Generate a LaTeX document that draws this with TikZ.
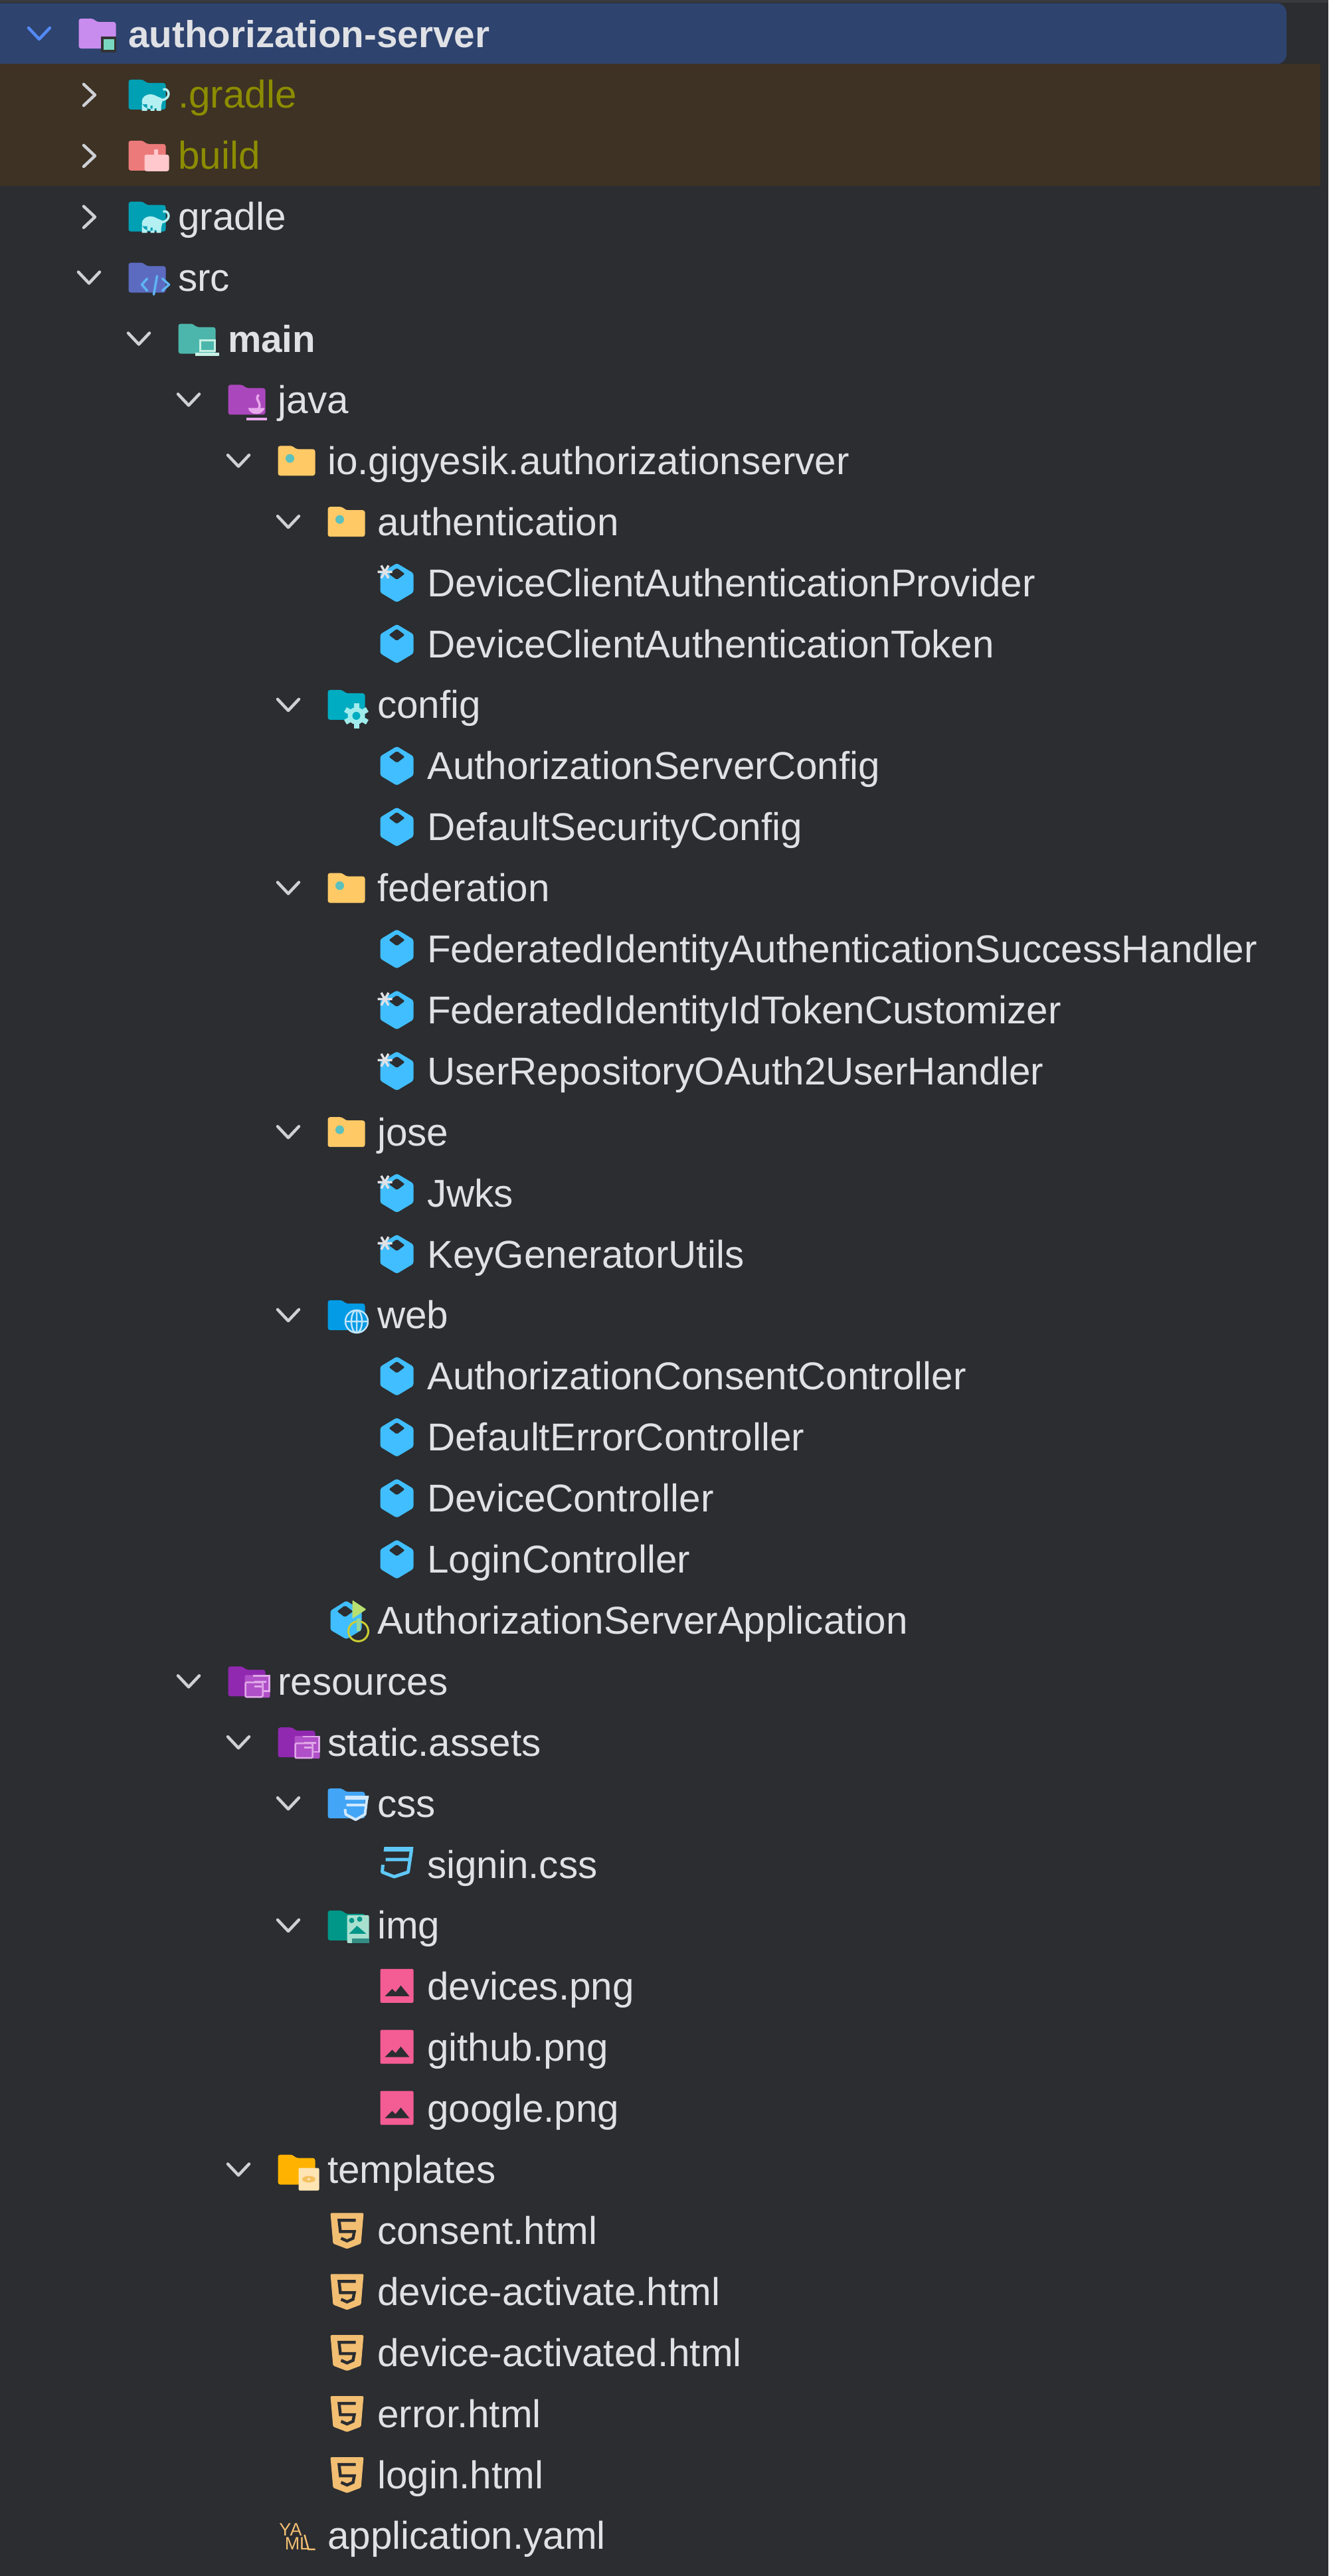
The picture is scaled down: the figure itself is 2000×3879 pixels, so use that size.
\documentclass[tikz,border=0pt]{standalone}
\usepackage{fontspec}
\setmainfont{Liberation Sans}
\usepackage{tikz}
\usetikzlibrary{calc}

\definecolor{panelbg}{HTML}{2B2D30}
\definecolor{topline}{HTML}{383A3E}
\definecolor{selrow}{HTML}{2E436E}
\definecolor{ignrow}{HTML}{3D3223}
\definecolor{rowink}{HTML}{DFE1E5}
\definecolor{chevink}{HTML}{CED0D6}
\definecolor{rootchev}{HTML}{548AF7}
\definecolor{ignink}{HTML}{8C8C00}
\definecolor{cubeblue}{HTML}{40BEFF}
\definecolor{htmlorange}{HTML}{F2BE72}
\definecolor{rootfill}{HTML}{C88CEE}
\definecolor{rootmark}{HTML}{7BD8C0}
\definecolor{gradlefill}{HTML}{00A0B4}
\definecolor{gradlemark}{HTML}{B4F0F2}
\definecolor{buildfill}{HTML}{EC7A7A}
\definecolor{buildmark}{HTML}{FFC8CC}
\definecolor{srcfill}{HTML}{5C6BC0}
\definecolor{srcmark}{HTML}{5FB4F5}
\definecolor{mainfill}{HTML}{4DB6AC}
\definecolor{mainmark}{HTML}{C8F0E4}
\definecolor{javafill}{HTML}{AB47BC}
\definecolor{javamark}{HTML}{E8A8EC}
\definecolor{pkgfill}{HTML}{FFC966}
\definecolor{pkgdot}{HTML}{5BC0BE}
\definecolor{conffill}{HTML}{00ACC1}
\definecolor{confmark}{HTML}{A0ECEC}
\definecolor{webfill}{HTML}{039BE5}
\definecolor{webmark}{HTML}{C0E4FA}
\definecolor{resfill}{HTML}{9028B0}
\definecolor{resdoc}{HTML}{B050C8}
\definecolor{resmark}{HTML}{E0A8E8}
\definecolor{cssfill}{HTML}{42A5F5}
\definecolor{cssmark}{HTML}{D0E8FF}
\definecolor{cssink}{HTML}{5FC8F8}
\definecolor{imgfill}{HTML}{009688}
\definecolor{imgmark}{HTML}{A8E0D0}
\definecolor{tplfill}{HTML}{FFB300}
\definecolor{tplmark}{HTML}{FFE4B4}
\definecolor{tpleye}{HTML}{F5C060}
\definecolor{pngfill}{HTML}{F45C94}
\definecolor{runfill}{HTML}{B8E070}
\definecolor{ringink}{HTML}{CCCC33}

% folder body, used by all the dir pics
\newcommand{\dirshape}[1]{\fill[#1,rounded corners=3.5pt] (-28,-23) -- (-6,-23) -- (-1,-18) -- (28,-18) -- (28,22) -- (-28,22) -- cycle;}
\newcommand{\cubeshape}{%
  \fill[cubeblue,rounded corners=3pt] (1,-30) -- (26,-15) -- (26,14) -- (1,29) -- (-24,14) -- (-24,-15) -- cycle;
  \fill[panelbg,rounded corners=2pt] (1,-23) -- (13,-14) -- (1,-5) -- (-11,-14) -- cycle;}
\newcommand{\stackdocs}{%
  \fill[resdoc,rounded corners=2pt] (-3,-10) rectangle (35,24);
  \draw[resmark,line width=2.5pt,rounded corners=2pt] (-2,1) rectangle (24,23);
  \draw[resmark,line width=2.5pt] (9,-9) -- (34,-9) -- (34,14) -- (25,14);
  \draw[resmark,line width=3pt] (11,0) -- (29,0) (11,7) -- (22,7);}
\newcommand{\elephant}{%
  \fill[gradlemark] (5,10) ellipse (13 and 11) (-8,14) rectangle (0,24) (5,16) rectangle (11,24) (14,14) rectangle (21,24);
  \fill[gradlemark] (10,0) -- (24,6) -- (20,20) -- (8,20) -- cycle;
  \draw[gradlemark,line width=3.5pt] (20,8) .. controls (30,8) and (35,0) .. (31,-6) .. controls (29,-9) and (26,-9) .. (24,-8);}

\tikzset{
  rowtext/.style={anchor=base west,inner sep=0pt,text=rowink,font=\fontsize{58.4}{60}\selectfont},
  ignoredtext/.style={rowtext,text=ignink},
  boldtext/.style={rowtext,font=\fontsize{56.6}{60}\selectfont\bfseries},
  chevline/.style={line width=4.5pt,line cap=round,line join=round},
  icontext/.style={inner sep=0pt,text=htmlorange,font=\fontsize{27}{27}\selectfont},
  pics/chevopen/.style={code={\draw[chevline,chevink] (-16,-9) -- (0,8) -- (16,-9);}},
  pics/chevroot/.style={code={\draw[chevline,rootchev] (-16,-9) -- (0,8) -- (16,-9);}},
  pics/chevshut/.style={code={\draw[chevline,chevink] (-8,-16) -- (9,0) -- (-8,16);}},
  pics/nochev/.style={code={}},
  pics/rootdir/.style={code={\dirshape{rootfill}
    \fill[black!80] (5.5,4) rectangle (28.5,28);
    \fill[rootmark] (9,8) rectangle (25,24);}},
  pics/gradledir/.style={code={\dirshape{gradlefill}
    \elephant}},
  pics/builddir/.style={code={\dirshape{buildfill}
    \fill[buildmark,rounded corners=3pt] (-4,-2) rectangle (33,23);
    \fill[buildmark] (10,-10) rectangle (16,0);}},
  pics/srcdir/.style={code={\dirshape{srcfill}
    \draw[chevline,line width=3.5pt,srcmark] (0,1) -- (-8,10) -- (0,19) (23,1) -- (33,10) -- (23,19) (15,-3) -- (10,25);}},
  pics/maindir/.style={code={\dirshape{mainfill}
    \draw[mainmark,line width=3pt] (5,2) rectangle (27,18);
    \fill[mainmark] (-3,20) rectangle (33,25);}},
  pics/javadir/.style={code={\dirshape{javafill}
    \draw[javamark,line width=3.5pt] (18,-8) .. controls (10,0) and (26,4) .. (16,16);
    \fill[javamark] (2,12) .. controls (5,24) and (24,24) .. (27,12) -- cycle;
    \fill[javamark] (-1,27) rectangle (30,31);}},
  pics/pkgdir/.style={code={\dirshape{pkgfill}
    \fill[pkgdot] (-10,-4) circle (6.5);}},
  pics/confdir/.style={code={\dirshape{conffill}
    \foreach \a in {0,60,...,300} {\fill[confmark,rotate around={\a:(15,16)}] (11,-3) rectangle (19,8);}
    \fill[confmark] (15,16) circle (13);
    \fill[conffill] (15,16) circle (6);}},
  pics/webdir/.style={code={\dirshape{webfill}
    \fill[webfill] (15.5,9) circle (18);
    \draw[webmark,line width=2.5pt] (15.5,9) circle (17) (-1,9) -- (32,9) (15.5,-8) -- (15.5,26) (15.5,9) ellipse (8 and 17);}},
  pics/resdir/.style={code={\dirshape{resfill}
    \stackdocs}},
  pics/cssdir/.style={code={\dirshape{cssfill}
    \fill[cssmark] (-2,-12) -- (34,-12) -- (33,-6) -- (-2,-6) -- cycle;
    \draw[cssmark,line width=4pt,line join=round] (0,2) -- (30,2) (31,-8) -- (28,16) -- (14,24) -- (-1,16) -- (-2,8);}},
  pics/imgdir/.style={code={\dirshape{imgfill}
    \fill[imgmark,rounded corners=2pt] (1,-16) rectangle (34,26);
    \fill[imgfill] (8,-8) circle (4) (20,-10) circle (4) (4,12) -- (16,0) -- (30,12) -- cycle;
    \fill[imgfill!60!gray] (8,19) rectangle (34,26);}},
  pics/tpldir/.style={code={\dirshape{tplfill}
    \fill[tplmark,rounded corners=2pt] (3,-3) rectangle (34,31);
    \fill[tpleye] (18.5,14) ellipse (10 and 5);
    \fill[tplmark] (18.5,14) circle (2);}},
  pics/cubefile/.style={code={\cubeshape}},
  pics/newcubefile/.style={code={\cubeshape
    \draw[rowink,line width=3.5pt] (-28,-17) -- (-6,-17) (-22.5,-26.5) -- (-11.5,-7.5) (-22.5,-7.5) -- (-11.5,-26.5);}},
  pics/appfile/.style={code={
    \fill[cubeblue,rounded corners=3pt] (0,-30) -- (23,-15) -- (23,14) -- (0,28) -- (-24,14) -- (-24,-15) -- cycle;
    \fill[panelbg,rounded corners=2pt] (-2,-23) -- (10,-14) -- (-2,-5) -- (-14,-14) -- cycle;
    \fill[runfill,rounded corners=1pt] (9,-31) -- (30,-17) -- (9,-3) -- cycle;
    \draw[ringink,line width=3pt] (18,16) circle (15);
    \fill[runfill!70!cubeblue] (15,-3) rectangle (21,16);}},
  pics/cssfile/.style={code={
    \fill[cssink] (-18,-27) -- (26,-27) -- (25,-20) -- (-19,-20) -- cycle;
    \draw[cssink,line width=5pt,line join=round] (-16,-8) -- (20,-8) (23,-22) -- (18,11) -- (-3,18) -- (-21,11) -- (-20,0);}},
  pics/pngfile/.style={code={
    \fill[pngfill,rounded corners=2pt] (-24,-27) rectangle (26,24);
    \fill[panelbg] (-17,14) -- (-6,3) -- (-1,8) -- (7,-2) -- (20,14) -- cycle;}},
  pics/htmlfile/.style={code={
    \fill[htmlorange,rounded corners=1.5pt] (-24,-27) -- (26,-27) -- (22,19) -- (1,27) -- (-20,19) -- cycle;
    \draw[panelbg,line width=4.5pt] (14,-16) -- (-11,-16) -- (-9,1) -- (12,1) -- (10,11) -- (1,15) -- (-8,11);}},
  pics/yamlfile/.style={code={
    \node[icontext] (yamlhead) at (-9,-10) {YA};
    \node[icontext] (yamltail) at (1,11) {ML};
    \draw[htmlorange,line width=2.5pt] (12,-2) -- (18,20) -- (28,20);}}
}

\begin{document}
\begin{tikzpicture}[x=1pt,y=-1pt]
  \useasboundingbox (0,0) rectangle (2000,3879);
  \fill[panelbg] (0,0) rectangle (2000,3879);
  \fill[topline] (0,0) rectangle (2000,4);
  \fill[selrow] (0,5) [rounded corners=14pt] -- (1937,5) -- (1937,96) [sharp corners] -- (0,96) -- cycle;
  \fill[ignrow] (0,96) rectangle (1988,280);
  % level / chevron / icon / text style / text
  \foreach \lvl/\chev/\ic/\sty/\txt [count=\r from 0] in {
      0/chevroot/rootdir/boldtext/authorization-server,
      1/chevshut/gradledir/ignoredtext/.gradle,
      1/chevshut/builddir/ignoredtext/build,
      1/chevshut/gradledir/rowtext/gradle,
      1/chevopen/srcdir/rowtext/src,
      2/chevopen/maindir/boldtext/main,
      3/chevopen/javadir/rowtext/java,
      4/chevopen/pkgdir/rowtext/io.gigyesik.authorizationserver,
      5/chevopen/pkgdir/rowtext/authentication,
      6/nochev/newcubefile/rowtext/DeviceClientAuthenticationProvider,
      6/nochev/cubefile/rowtext/DeviceClientAuthenticationToken,
      5/chevopen/confdir/rowtext/config,
      6/nochev/cubefile/rowtext/AuthorizationServerConfig,
      6/nochev/cubefile/rowtext/DefaultSecurityConfig,
      5/chevopen/pkgdir/rowtext/federation,
      6/nochev/cubefile/rowtext/FederatedIdentityAuthenticationSuccessHandler,
      6/nochev/newcubefile/rowtext/FederatedIdentityIdTokenCustomizer,
      6/nochev/newcubefile/rowtext/UserRepositoryOAuth2UserHandler,
      5/chevopen/pkgdir/rowtext/jose,
      6/nochev/newcubefile/rowtext/Jwks,
      6/nochev/newcubefile/rowtext/KeyGeneratorUtils,
      5/chevopen/webdir/rowtext/web,
      6/nochev/cubefile/rowtext/AuthorizationConsentController,
      6/nochev/cubefile/rowtext/DefaultErrorController,
      6/nochev/cubefile/rowtext/DeviceController,
      6/nochev/cubefile/rowtext/LoginController,
      5/nochev/appfile/rowtext/AuthorizationServerApplication,
      3/chevopen/resdir/rowtext/resources,
      4/chevopen/resdir/rowtext/static.assets,
      5/chevopen/cssdir/rowtext/css,
      6/nochev/cssfile/rowtext/signin.css,
      5/chevopen/imgdir/rowtext/img,
      6/nochev/pngfile/rowtext/devices.png,
      6/nochev/pngfile/rowtext/github.png,
      6/nochev/pngfile/rowtext/google.png,
      4/chevopen/tpldir/rowtext/templates,
      5/nochev/htmlfile/rowtext/consent.html,
      5/nochev/htmlfile/rowtext/device-activate.html,
      5/nochev/htmlfile/rowtext/device-activated.html,
      5/nochev/htmlfile/rowtext/error.html,
      5/nochev/htmlfile/rowtext/login.html,
      4/nochev/yamlfile/rowtext/application.yaml} {
    \pic at ({59+75*\lvl},{51+91.9*\r}) {\chev};
    \pic at ({146.5+75*\lvl},{51+91.9*\r}) {\ic};
    \node[\sty] (row\r) at ({193+75*\lvl},{71+91.9*\r}) {\txt};
  }
\end{tikzpicture}
\end{document}
